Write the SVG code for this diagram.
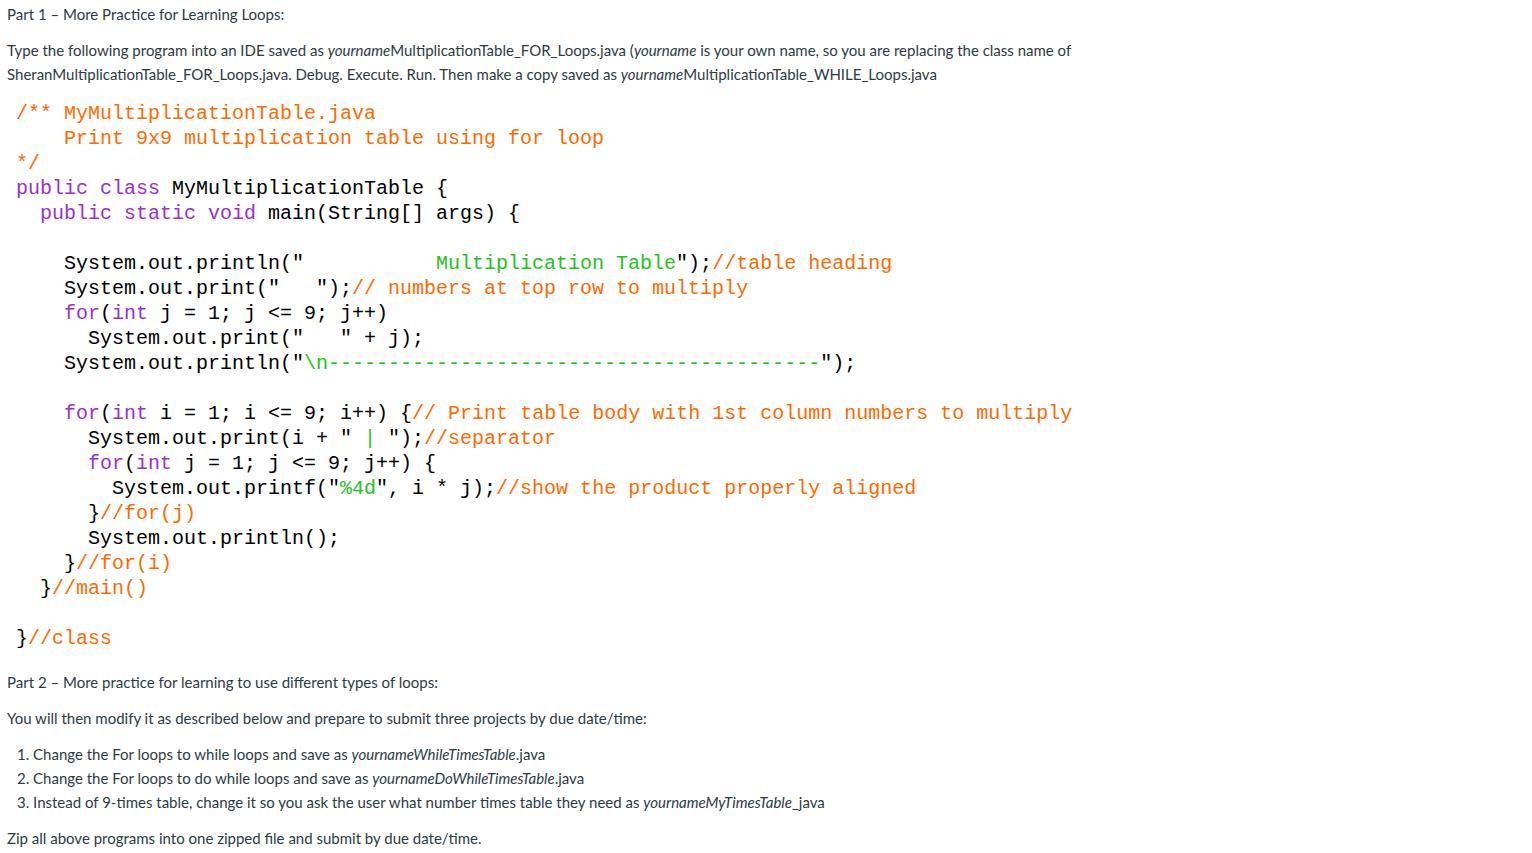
<svg xmlns="http://www.w3.org/2000/svg" width="1532" height="853" viewBox="0 0 1532 853">
<style>
.t{font-family:Lato,"Liberation Sans",sans-serif;font-size:15px;fill:#2d3b45}
.c{font-family:"Liberation Mono",monospace;font-size:20px;fill:#000;white-space:pre}
.o{fill:#ff6a00}.p{fill:#9a2fd6}.g{fill:#22c31c}
</style>
<rect width="1532" height="853" fill="#fff"/>
<text class="t" x="7" y="20">Part 1 – More Practice for Learning Loops:</text>
<text class="t" x="7" y="56">Type the following program into an IDE saved as <tspan font-style="italic">yourname</tspan>MultiplicationTable_FOR_Loops.java (<tspan font-style="italic">yourname</tspan> is your own name, so you are replacing the class name of</text>
<text class="t" x="7" y="80">SheranMultiplicationTable_FOR_Loops.java. Debug. Execute. Run. Then make a copy saved as <tspan font-style="italic">yourname</tspan>MultiplicationTable_WHILE_Loops.java</text>
<g xml:space="preserve">
<text class="c o" x="16" y="119">/** MyMultiplicationTable.java</text>
<text class="c o" x="16" y="144">    Print 9x9 multiplication table using for loop</text>
<text class="c o" x="16" y="169">*/</text>
<text class="c" x="16" y="194"><tspan class="p">public class</tspan> MyMultiplicationTable {</text>
<text class="c" x="16" y="219">  <tspan class="p">public static void</tspan> main(String[] args) {</text>
<text class="c" x="16" y="269">    System.out.println("<tspan class="g">           Multiplication Table</tspan>");<tspan class="o">//table heading</tspan></text>
<text class="c" x="16" y="294">    System.out.print("   ");<tspan class="o">// numbers at top row to multiply</tspan></text>
<text class="c" x="16" y="319">    <tspan class="p">for</tspan>(<tspan class="p">int</tspan> j = 1; j &lt;= 9; j++)</text>
<text class="c" x="16" y="344">      System.out.print("   " + j);</text>
<text class="c" x="16" y="369">    System.out.println("<tspan class="g">\n-----------------------------------------</tspan>");</text>
<text class="c" x="16" y="419">    <tspan class="p">for</tspan>(<tspan class="p">int</tspan> i = 1; i &lt;= 9; i++) {<tspan class="o">// Print table body with 1st column numbers to multiply</tspan></text>
<text class="c" x="16" y="444">      System.out.print(i + "<tspan class="g"> | </tspan>");<tspan class="o">//separator</tspan></text>
<text class="c" x="16" y="469">      <tspan class="p">for</tspan>(<tspan class="p">int</tspan> j = 1; j &lt;= 9; j++) {</text>
<text class="c" x="16" y="494">        System.out.printf("<tspan class="g">%4d</tspan>", i * j);<tspan class="o">//show the product properly aligned</tspan></text>
<text class="c" x="16" y="519">      }<tspan class="o">//for(j)</tspan></text>
<text class="c" x="16" y="544">      System.out.println();</text>
<text class="c" x="16" y="569">    }<tspan class="o">//for(i)</tspan></text>
<text class="c" x="16" y="594">  }<tspan class="o">//main()</tspan></text>
<text class="c" x="16" y="644">}<tspan class="o">//class</tspan></text>
</g>
<text class="t" x="7" y="688">Part 2 – More practice for learning to use different types of loops:</text>
<text class="t" x="7" y="724">You will then modify it as described below and prepare to submit three projects by due date/time:</text>
<text class="t" x="17" y="760">1. Change the For loops to while loops and save as <tspan font-style="italic">yournameWhileTimesTable</tspan>.java</text>
<text class="t" x="17" y="784">2. Change the For loops to do while loops and save as <tspan font-style="italic">yournameDoWhileTimesTable</tspan>.java</text>
<text class="t" x="17" y="808">3. Instead of 9-times table, change it so you ask the user what number times table they need as <tspan font-style="italic">yournameMyTimesTable</tspan>_java</text>
<text class="t" x="7" y="844">Zip all above programs into one zipped file and submit by due date/time.</text>
</svg>
